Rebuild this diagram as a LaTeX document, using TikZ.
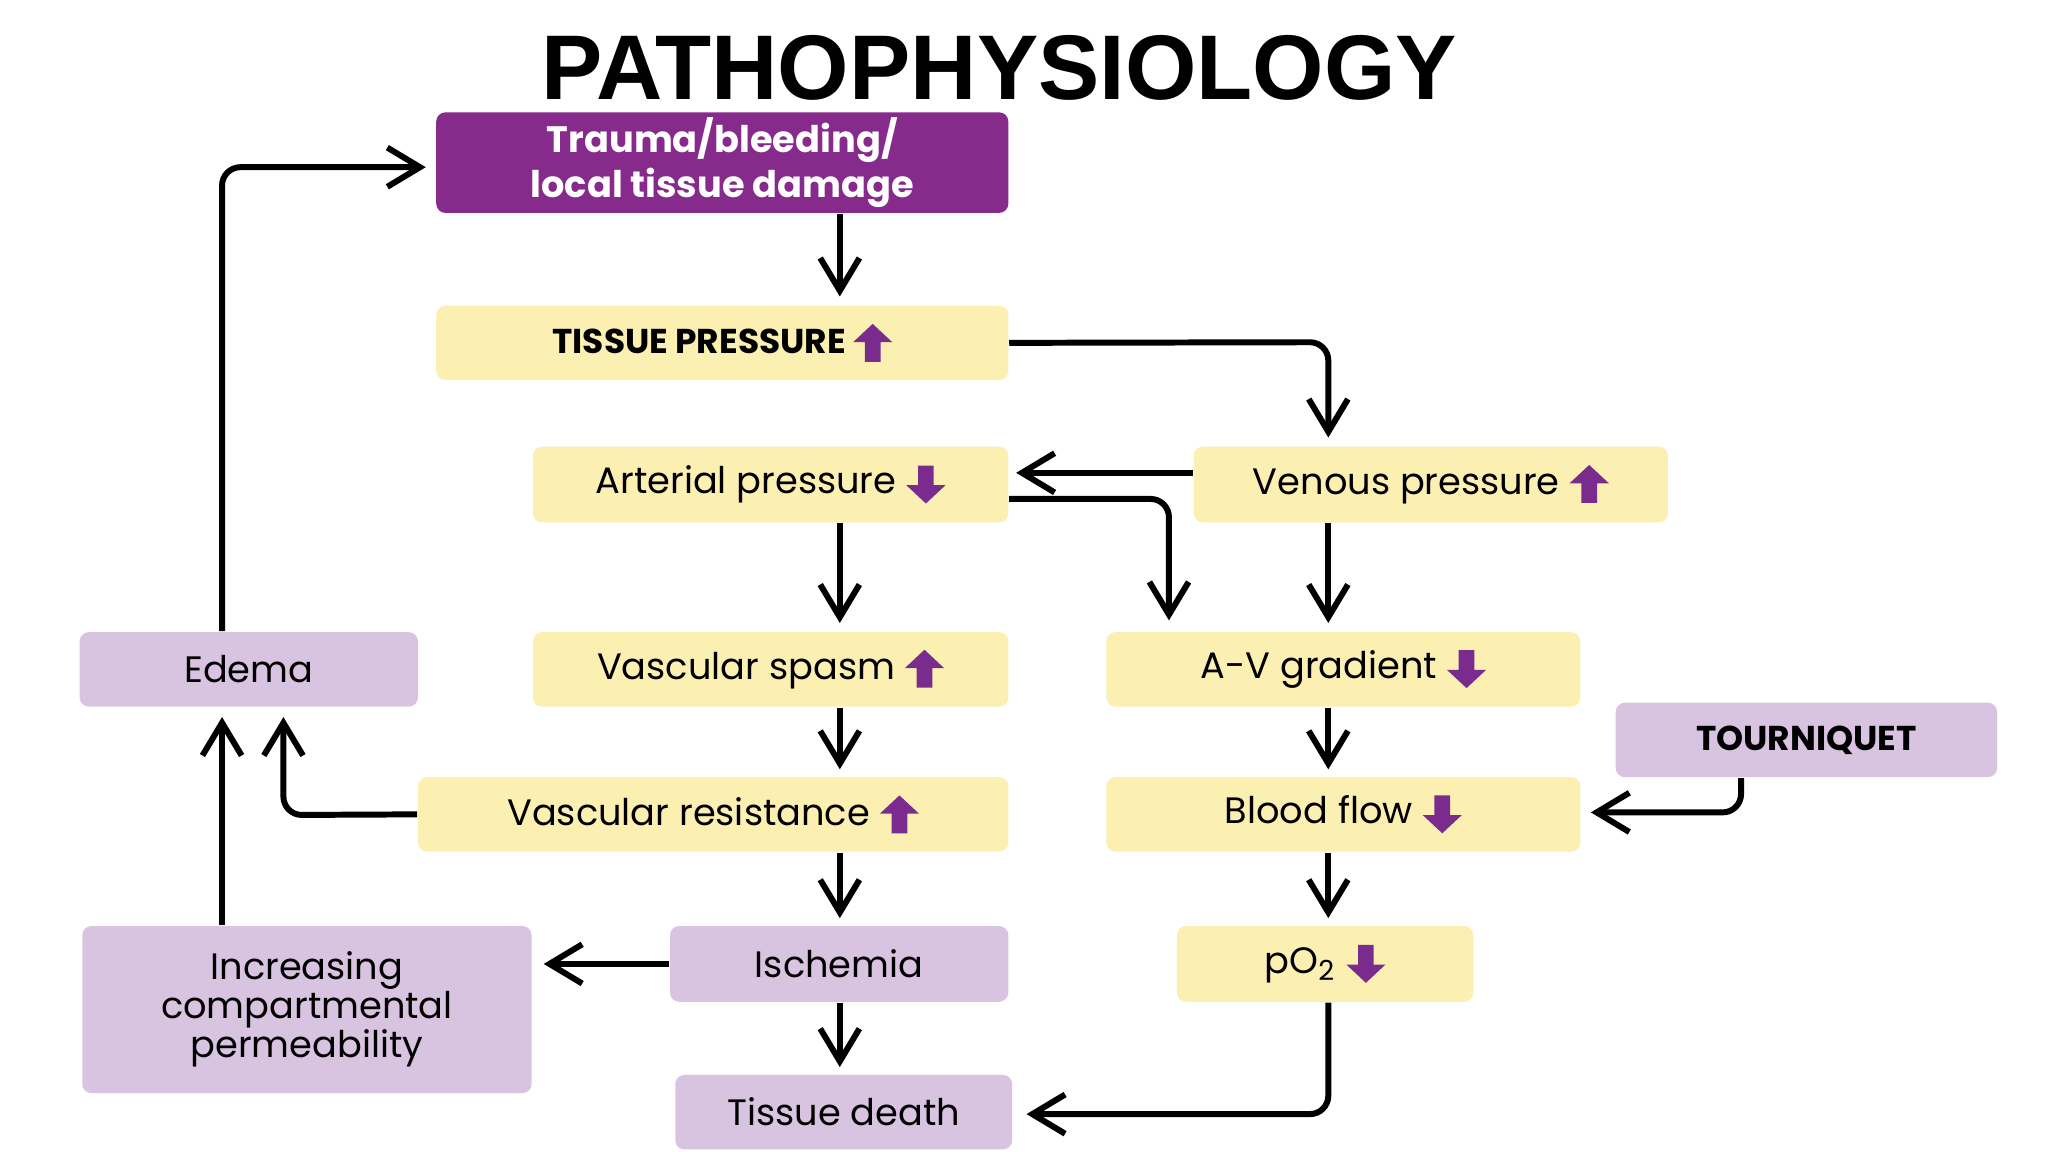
\documentclass[tikz,border=0pt]{standalone}
\usepackage{fontspec}
\setmainfont{Poppins}
\newfontfamily\titlefont{Liberation Sans}
\usetikzlibrary{arrows.meta}
\definecolor{pur}{HTML}{862A8C}
\definecolor{arr}{HTML}{7A2B8E}
\definecolor{yel}{HTML}{FBF0B2}
\definecolor{lav}{HTML}{D8C4E0}
\newcommand{\upar}{\tikz[baseline=-0.5ex,x=1cm,y=1cm,sharp corners]\fill[arr,sharp corners] (-0.06,-0.14)--(-0.06,0.01)--(-0.15,0.01)--(0,0.15)--(0.15,0.01)--(0.06,0.01)--(0.06,-0.14)--cycle;}
\newcommand{\dnar}{\tikz[baseline=-0.5ex,x=1cm,y=-1cm,sharp corners]\fill[arr,sharp corners] (-0.06,-0.14)--(-0.06,0.01)--(-0.15,0.01)--(0,0.15)--(0.15,0.01)--(0.06,0.01)--(0.06,-0.14)--cycle;}
\begin{document}
\begin{tikzpicture}[x=0.01cm,y=-0.01cm,
 box/.style={rounded corners=2pt,align=center,font=\fontsize{8}{8.5}\selectfont,inner sep=0pt},
 Y/.style={box,fill=yel},
 L/.style={box,fill=lav},
 ar/.style={line width=1.3pt,-{Straight Barb[length=2.5mm,width=3mm]},rounded corners=4pt}]
\useasboundingbox[fill=white] (0,0) rectangle (1568,882);
\node[font=\titlefont\bfseries\fontsize{20}{20}\selectfont] (title) at (765,52) {PATHOPHYSIOLOGY};
\newcommand{\bx}[6]{\node[#1,minimum width=#4*0.01cm-#2*0.01cm,minimum height=#5*0.01cm-#3*0.01cm] (#6) at ({(#2+#4)/2},{(#3+#5)/2})}
\bx{box,fill=pur,text=white,font=\bfseries\fontsize{8}{8.6}\selectfont}{334}{86}{772}{163}{trauma} {Trauma/bleeding/\\local tissue damage};
\bx{Y,font=\bfseries\fontsize{7.5}{9}\selectfont}{334}{234}{772}{291}{tp} {TISSUE PRESSURE \upar};
\bx{Y}{408}{342}{772}{400}{art} {Arterial pressure \dnar};
\bx{Y}{914}{342}{1277}{400}{ven} {Venous pressure \upar};
\bx{L}{61}{484}{320}{541}{edema} {Edema};
\bx{Y}{408}{484}{772}{541}{spasm} {Vascular spasm \upar};
\bx{Y}{847}{484}{1210}{541}{av} {A-V gradient \dnar};
\bx{L,font=\bfseries\fontsize{7.5}{9}\selectfont}{1237}{538}{1529}{595}{tq} {TOURNIQUET};
\bx{Y}{320}{595}{772}{652}{res} {Vascular resistance \upar};
\bx{Y}{847}{595}{1210}{652}{bf} {Blood flow \dnar};
\bx{L}{63}{709}{407}{837}{perm} {Increasing\\compartmental\\permeability};
\bx{L}{513}{709}{772}{767}{isch} {Ischemia};
\bx{Y}{901}{709}{1128}{767}{po} {pO\textsubscript{2} \dnar};
\bx{L}{517}{823}{775}{880}{death} {Tissue death};
\draw[ar] (trauma.south -| 643,0) -- (643,227);
\draw[ar] (tp.east) -- (1017,262) -- (1017,335);
\draw[ar] (ven.west |- 0,362) -- (778,362);
\draw[ar] (art.east |- 0,382) -- (895,382) -- (895,475);
\draw[ar] (ven.south -| 1017,0) -- (1017,477);
\draw[ar] (art.south -| 643,0) -- (643,477);
\draw[ar] (spasm.south -| 643,0) -- (643,589);
\draw[ar] (res.south -| 643,0) -- (643,703);
\draw[ar] (isch.south -| 643,0) -- (643,817);
\draw[ar] (isch.west) -- ++(-96,0);
\draw[ar] (perm.north -| 170,0) -- (170,549);
\draw[ar] (res.west) -- (217,624) -- (217,549);
\draw[ar] (edema.north -| 170,0) -- (170,128) -- (326,128);
\draw[ar] (av.south -| 1017,0) -- (1017,589);
\draw[ar] (tq.south -| 1333,0) -- (1333,622) -- (1218,622);
\draw[ar] (bf.south -| 1017,0) -- (1017,703);
\draw[ar] (po.south -| 1017,0) -- (1017,853) -- (786,853);
\end{tikzpicture}
\end{document}
